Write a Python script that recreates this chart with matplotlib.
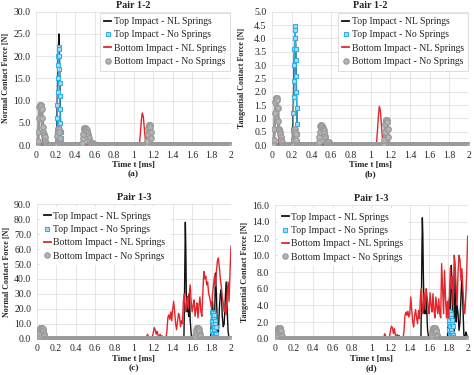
import numpy as np
import matplotlib
matplotlib.use("Agg")
import matplotlib.pyplot as plt
from matplotlib.lines import Line2D

plt.rcParams['font.family'] = ['Liberation Serif', 'DejaVu Serif']

# ---------------- data ----------------
series_labels = ["Top Impact - NL Springs", "Top Impact - No Springs",
                 "Bottom Impact - NL Springs", "Bottom Impact - No Springs"]
x_ticks = [0, 0.2, 0.4, 0.6, 0.8, 1, 1.2, 1.4, 1.6, 1.8, 2]
x_tick_labels = ["0", "0.2", "0.4", "0.6", "0.8", "1", "1.2", "1.4", "1.6", "1.8", "2"]

# sampling instants of the "No Springs" results (baseline at zero between pulses)
t_grid = np.round(np.arange(0, 2.0001, 0.01), 3)

# ---- Pair 1-2 pulse times ----
t_top = [0.205, 0.21, 0.215, 0.22, 0.225, 0.23, 0.235, 0.24, 0.245, 0.25, 0.255, 0.26]
t_top_ns = [0.21, 0.2125, 0.215, 0.2175, 0.22, 0.2225, 0.225, 0.2275, 0.23, 0.2325, 0.235,
            0.2375, 0.24, 0.2425, 0.245, 0.2475, 0.25, 0.2525, 0.255, 0.2575, 0.26]
t_bot1 = [0.015, 0.02, 0.03, 0.04, 0.045, 0.05, 0.055, 0.06, 0.07, 0.075]
t_bot2 = [1.06, 1.07, 1.08, 1.09, 1.10, 1.11, 1.12, 1.13]
t_gr1 = [0.015, 0.02, 0.025, 0.03, 0.035, 0.04, 0.045, 0.05, 0.055, 0.06, 0.065, 0.07,
         0.075, 0.08, 0.085, 0.09, 0.095, 0.10, 0.105]
t_gr2 = [0.215, 0.22, 0.225, 0.23, 0.235, 0.24, 0.245, 0.25]
t_gr3 = [0.47, 0.475, 0.48, 0.485, 0.49, 0.495, 0.50, 0.505, 0.51, 0.515, 0.52, 0.525,
         0.53, 0.535, 0.54, 0.545, 0.55, 0.56, 0.57, 0.58, 0.59, 0.60]
t_gr4 = [1.135, 1.14, 1.145, 1.15, 1.155, 1.16, 1.165, 1.17, 1.175, 1.18, 1.185]

# (a) normal force, pair 1-2
a_top_nl = [0, 2, 6, 12, 18, 22, 25, 21, 14, 7, 2, 0]
a_top_ns = [0, 1, 3, 6, 9, 12, 15, 18, 20, 22, 21.5, 20, 17, 14, 11, 8, 5, 3, 1.5, 0.5, 0]
a_bot_nl1 = [0, 1, 4, 7, 7.5, 7.2, 6, 3.5, 0.5, 0]
a_bot_nl2 = [0, 2.5, 5.5, 7.2, 6.5, 4, 1.5, 0]
a_bot_ns1 = [0, 1, 3, 6, 8.5, 9, 9, 9, 8.8, 8, 6, 4, 3, 2.5, 2, 1.8, 1, 0.5, 0]
a_bot_ns2 = [0, 2, 3.5, 3.7, 3.5, 3, 1.5, 0]
a_bot_ns3 = [0, 0.5, 1.5, 2.5, 3.5, 3.8, 3.9, 3.8, 3.7, 3.5, 3.4, 3.0, 2.5, 2, 1.5, 1,
             0.5, 0.3, 0.5, 0.5, 0.3, 0]
a_bot_ns4 = [0, 1, 2.5, 3.8, 4.5, 4.6, 4.5, 4, 3, 1.5, 0]

# (b) tangential force, pair 1-2
b_top_nl = [0, 0.5, 1.2, 2.2, 3.2, 3.9, 4.3, 3.8, 2.8, 1.6, 0.6, 0]
b_top_ns = [0, 0.2, 0.6, 1.2, 1.8, 2.4, 3.0, 3.6, 4.0, 4.45, 4.3, 4.0, 3.6, 3.2, 2.6, 2.0,
            1.4, 0.8, 0.4, 0.1, 0]
b_bot_nl1 = [0, 0.2, 0.8, 1.45, 1.55, 1.5, 1.2, 0.7, 0.1, 0]
b_bot_nl2 = [0, 0.5, 1.1, 1.45, 1.3, 0.8, 0.3, 0]
b_bot_ns1 = [0, 0.2, 0.6, 1.2, 1.6, 1.75, 1.75, 1.75, 1.7, 1.4, 0.9, 0.6, 0.55, 0.5, 0.4,
             0.3, 0.2, 0.1, 0]
b_bot_ns2 = [0, 0.2, 0.5, 0.6, 0.5, 0.4, 0.2, 0]
b_bot_ns3 = [0, 0.1, 0.3, 0.5, 0.7, 0.75, 0.75, 0.72, 0.7, 0.65, 0.6, 0.55, 0.45, 0.35,
             0.25, 0.15, 0.1, 0.05, 0.1, 0.1, 0.05, 0]
b_bot_ns4 = [0, 0.2, 0.5, 0.8, 0.93, 0.95, 0.93, 0.85, 0.6, 0.3, 0]

# ---- Pair 1-3 pulse times ----
t3_gr1 = [0.015, 0.02, 0.025, 0.03, 0.035, 0.04, 0.045, 0.05, 0.055, 0.06, 0.065, 0.07,
          0.075, 0.08]
t3_gr2 = [1.625, 1.63, 1.635, 1.64, 1.645, 1.65, 1.655, 1.66, 1.665, 1.67, 1.675, 1.68,
          1.685, 1.69]
t3_top_ns = [1.80, 1.8025, 1.805, 1.8075, 1.81, 1.8125, 1.815, 1.8175, 1.82, 1.8225, 1.825,
             1.8275, 1.83, 1.8325, 1.835, 1.8375, 1.84, 1.8425, 1.845, 1.8475, 1.85]
t3_top1 = [1.515, 1.52, 1.525, 1.53, 1.535, 1.54, 1.545, 1.55, 1.555, 1.56, 1.565, 1.57,
           1.575, 1.58, 1.585, 1.59, 1.60]
t3_top2 = [1.79, 1.80, 1.81, 1.82, 1.83, 1.84, 1.85, 1.86, 1.87, 1.88, 1.89, 1.90, 1.91,
           1.92, 1.93, 1.94, 1.95, 1.96, 1.97, 1.98, 1.99, 2.00]
t3_bot = [0, 1.10, 1.11, 1.12, 1.13, 1.14, 1.15, 1.16, 1.17, 1.18, 1.19,
          1.20, 1.21, 1.22, 1.23, 1.24, 1.25, 1.26, 1.27, 1.28, 1.29,
          1.30, 1.31, 1.32, 1.33, 1.34, 1.35, 1.36, 1.37, 1.38, 1.39,
          1.40, 1.41, 1.42, 1.43, 1.44, 1.45, 1.46, 1.47, 1.48, 1.49,
          1.50, 1.51, 1.52, 1.53, 1.54, 1.55, 1.56, 1.57, 1.58, 1.59,
          1.60, 1.61, 1.62, 1.63, 1.64, 1.65, 1.66, 1.67, 1.68, 1.69,
          1.70, 1.71, 1.72, 1.73, 1.74, 1.75, 1.76, 1.77, 1.78, 1.79,
          1.80, 1.81, 1.82, 1.83, 1.84, 1.85, 1.86, 1.87, 1.88, 1.89,
          1.90, 1.91, 1.92, 1.93, 1.94, 1.95, 1.96, 1.97, 1.98, 1.99, 2.00]

# (c) normal force, pair 1-3
c_top_nl1 = [0, 20, 50, 78, 60, 30, 25, 18, 28, 20, 15, 30, 25, 12, 8, 3, 0]
c_top_nl2 = [0, 15, 25, 12, 8, 44, 30, 5, 4, 20, 30, 33, 15, 8, 10, 25, 38, 20, 5, 0, 0, 0]
c_top_ns = [0, 5, 12, 18, 10, 3, 15, 17, 8, 2, 14, 16, 6, 1, 12, 10, 4, 8, 3, 1, 0]
c_bot_nl = [0, 0, 0, 0, 0.5, 3, 1.5, 0, 0, 0, 1,
            4, 7.5, 6, 3, 5, 2, 1, 3, 1, 2,
            0.5, 0, 0, 0, 5, 14, 16, 13, 18, 12,
            20, 25, 18, 10, 6, 12, 17, 15, 8, 12,
            10, 25, 30, 18, 22, 28, 20, 30, 36, 25,
            18, 22, 26, 15, 20, 24, 14, 22, 28, 18,
            15, 30, 45, 40, 42, 36, 38, 30, 28, 24,
            20, 30, 36, 42, 35, 45, 52, 54, 48, 40,
            35, 28, 24, 18, 22, 16, 30, 38, 25, 45, 62]
c_bot_ns1 = [0, 2, 4, 6, 7, 7.2, 7.2, 7.2, 7, 6.5, 5, 3, 1.5, 0]
c_bot_ns2 = [0, 2, 4, 6, 7, 7.2, 7.2, 7.2, 7, 6.5, 5, 3, 1.5, 0]

# (d) tangential force, pair 1-3
d_top_nl1 = [0, 4, 10, 14.5, 12.5, 8, 5, 3, 5, 4, 3, 5, 4, 2, 1, 0.5, 0]
d_top_nl2 = [0, 3, 4.8, 2, 8.8, 6, 1, 0.8, 8.5, 2, 4, 3, 1, 2, 5, 7.5, 4, 0.5, 0, 0.8, 0.5, 0]
d_top_ns = [0, 1, 2.2, 3.3, 1.8, 0.5, 2.8, 3.2, 1.5, 0.4, 2.6, 3.0, 1.1, 0.2, 2.2, 1.8, 0.7,
            1.5, 0.5, 0.2, 0]
d_bot_nl = [0, 0, 0, 0, 0.1, 0.6, 0.3, 0, 0, 0, 0.3,
            1.0, 1.5, 1.3, 0.6, 1.2, 0.5, 0.2, 0.5, 0.3, 0.4,
            0.1, 0, 0, 0, 1.0, 2.8, 3.2, 2.8, 3.3, 2.6,
            3.0, 5.0, 3.5, 2.0, 1.4, 2.8, 3.5, 2.5, 1.8, 3.4,
            2.4, 5.0, 6.0, 3.0, 4.0, 5.5, 3.5, 6.0, 5.0, 3.8,
            3.0, 5.5, 4.0, 3.2, 5.4, 3.5, 2.5, 5.0, 3.8, 3.0,
            4.8, 3.0, 2.5, 9.0, 6.0, 3.0, 8.2, 5.0, 2.5, 4.5,
            2.5, 5.0, 8.5, 6.0, 7.5, 4.0, 10.0, 9.0, 6.0, 4.0,
            8.0, 10.0, 9.5, 7.0, 8.4, 6.0, 4.0, 3.0, 5.0, 8.0, 12.3]
d_bot_ns1 = [0, 0.4, 0.8, 1.1, 1.25, 1.3, 1.3, 1.3, 1.25, 1.1, 0.9, 0.5, 0.3, 0]
d_bot_ns2 = [0, 0.4, 0.8, 1.1, 1.25, 1.3, 1.3, 1.3, 1.25, 1.1, 0.9, 0.5, 0.3, 0]


def with_baseline(grid, pulses):
    """Combine pulses with a zero-valued baseline at the sampling instants outside them."""
    ts, vs = [], []
    for pt, pv in pulses:
        ts += list(pt)
        vs += list(pv)
    for g in grid:
        if not any(min(pt) <= g <= max(pt) for pt, _ in pulses):
            ts.append(float(g))
            vs.append(0.0)
    order = np.argsort(ts, kind="stable")
    return np.array(ts)[order], np.array(vs)[order]


C_BLACK = "#111111"
C_CYAN = "#2fb0e6"
C_RED = "#e3262b"
C_GRAY = "#9a9a9a"
TXT = "#262626"

panels = [
    dict(title="Pair 1-2", ylabel="Normal Contact Force [N]", tag="(a)", ymax=30, ystep=5,
         top_nl=[(t_top, a_top_nl)], top_ns=[(t_top_ns, a_top_ns)],
         bot_nl=[(t_bot1, a_bot_nl1), (t_bot2, a_bot_nl2)],
         bot_ns=[(t_gr1, a_bot_ns1), (t_gr2, a_bot_ns2), (t_gr3, a_bot_ns3), (t_gr4, a_bot_ns4)],
         box=(36, 11.7, 231, 145), leg="upper right"),
    dict(title="Pair 1-2", ylabel="Tangential Contact Force [N]", tag="(b)", ymax=5, ystep=0.5,
         top_nl=[(t_top, b_top_nl)], top_ns=[(t_top_ns, b_top_ns)],
         bot_nl=[(t_bot1, b_bot_nl1), (t_bot2, b_bot_nl2)],
         bot_ns=[(t_gr1, b_bot_ns1), (t_gr2, b_bot_ns2), (t_gr3, b_bot_ns3), (t_gr4, b_bot_ns4)],
         box=(272, 11.7, 469, 145), leg="upper right"),
    dict(title="Pair 1-3", ylabel="Normal Contact Force [N]", tag="(c)", ymax=90, ystep=10,
         top_nl=[(t3_top1, c_top_nl1), (t3_top2, c_top_nl2)], top_ns=[(t3_top_ns, c_top_ns)],
         bot_nl=[(t3_bot, c_bot_nl)],
         bot_ns=[(t3_gr1, c_bot_ns1), (t3_gr2, c_bot_ns2)],
         box=(36.7, 204.3, 231, 338.7), leg="upper left"),
    dict(title="Pair 1-3", ylabel="Tangential Contact Force [N]", tag="(d)", ymax=16, ystep=2,
         top_nl=[(t3_top1, d_top_nl1), (t3_top2, d_top_nl2)], top_ns=[(t3_top_ns, d_top_ns)],
         bot_nl=[(t3_bot, d_bot_nl)],
         bot_ns=[(t3_gr1, d_bot_ns1), (t3_gr2, d_bot_ns2)],
         box=(274.7, 205.3, 467.7, 338.7), leg="upper left"),
]

W, H = 474, 375
fig = plt.figure(figsize=(W / 100, H / 100), dpi=100)

for p in panels:
    x0, y0, x1, y1 = p["box"]
    ax = fig.add_axes([x0 / W, 1 - y1 / H, (x1 - x0) / W, (y1 - y0) / H])

    t, v = with_baseline([0, 2], p["top_nl"])
    ax.plot(t, v, color=C_BLACK, lw=1.0, zorder=3)
    t, v = with_baseline(t_grid, p["top_ns"])
    ax.plot(t, v, color=C_CYAN, lw=0.8, marker="s", ms=3.0, mew=0.8, mfc="#a8dcf2",
            mec=C_CYAN, zorder=4)
    t, v = with_baseline([0, 2], p["bot_nl"])
    ax.plot(t, v, color=C_RED, lw=1.0, zorder=5)
    t, v = with_baseline(t_grid, p["bot_ns"])
    ax.plot(t, v, color=C_GRAY, lw=2.2, marker="o", ms=4.0, mew=0.9, mfc="#b4b4b4",
            mec=C_GRAY, zorder=6, solid_capstyle="butt")

    ax.set_xlim(0, 2)
    ax.set_ylim(0, p["ymax"])
    ax.set_xticks(x_ticks)
    ax.set_xticklabels(x_tick_labels)
    yt = np.arange(0, p["ymax"] + 1e-9, p["ystep"])
    ax.set_yticks(yt)
    ax.set_yticklabels([f"{y:.1f}" for y in yt])
    ax.tick_params(length=0, labelsize=7, colors=TXT, pad=4)
    ax.grid(True, color="#dcdcdc", lw=0.5)
    ax.set_axisbelow(True)
    for s in ax.spines.values():
        s.set_visible(False)

    cx = (x0 + x1) / 2
    fig.text(cx / W, 1 - (y0 - 6.5) / H, p["title"], ha="center", va="center",
             fontsize=7.3, fontweight="bold", color=TXT)
    fig.text(cx / W, 1 - (y1 + 20) / H, "Time t [ms]", ha="center", va="center",
             fontsize=6.3, fontweight="bold", color=TXT)
    fig.text(cx / W, 1 - (y1 + 29.5) / H, p["tag"], ha="center", va="center",
             fontsize=6.8, fontweight="bold", color=TXT)
    fig.text((x0 - 30) / W, 1 - ((y0 + y1) / 2) / H, p["ylabel"], ha="center", va="center",
             rotation=90, fontsize=5.8, fontweight="bold", color=TXT)

    handles = [
        Line2D([], [], color=C_BLACK, lw=1.3),
        Line2D([], [], color=C_CYAN, ls="none", marker="s", ms=3.2, mew=0.8, mfc="#a8dcf2"),
        Line2D([], [], color=C_RED, lw=1.3),
        Line2D([], [], color=C_GRAY, ls="none", marker="o", ms=3.8, mew=0.9, mfc="#b4b4b4"),
    ]
    if p["leg"] == "upper right":
        leg = ax.legend(handles, series_labels, loc="upper right", bbox_to_anchor=(1.0, 1.0),
                        fontsize=7, handlelength=0.7, handletextpad=0.25, labelspacing=0.45,
                        borderpad=0.45, borderaxespad=0.1, fancybox=False, framealpha=1,
                        edgecolor="#d0d0d0")
        leg.get_frame().set_linewidth(0.5)
    else:
        leg = ax.legend(handles, series_labels, loc="upper left", bbox_to_anchor=(0.0, 1.0),
                        fontsize=7, handlelength=0.7, handletextpad=0.25, labelspacing=0.45,
                        borderpad=0.45, borderaxespad=0.3, fancybox=False, framealpha=1,
                        edgecolor="none")
    for txt in leg.get_texts():
        txt.set_color(TXT)
    leg.set_zorder(10)

fig.savefig("out.png", dpi=100, facecolor="white")
